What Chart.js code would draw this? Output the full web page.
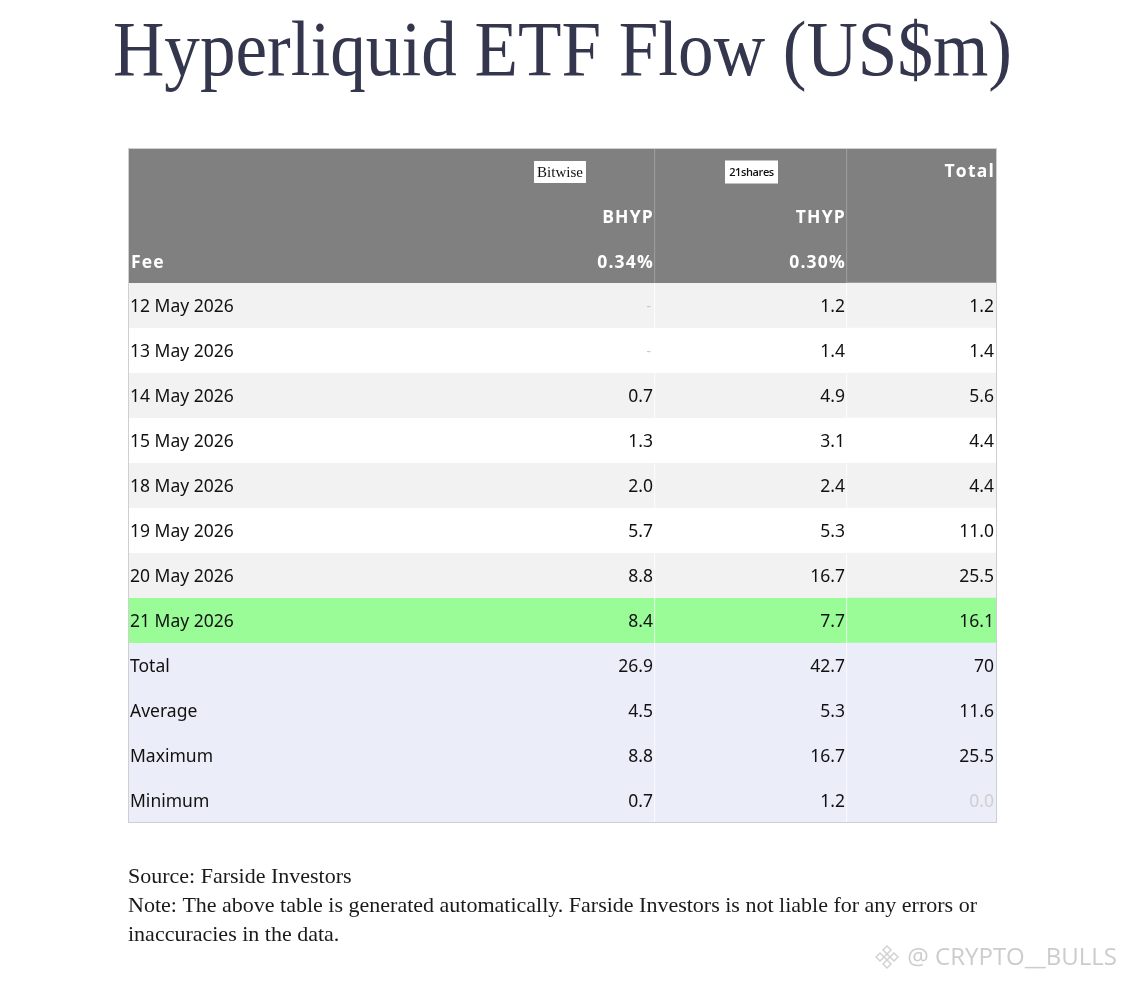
<!DOCTYPE html>
<html>
<head>
<meta charset="utf-8">
<script src="https://cdn.jsdelivr.net/npm/chart.js@4.4.1/dist/chart.umd.min.js"></script>
<style>
  html, body { margin: 0; padding: 0; background: #fff; }
  #wrap { width: 1125px; height: 981px; position: relative; }
</style>
</head>
<body>
<div id="wrap"><canvas id="flowTable"></canvas></div>
<script>
const TITLE = 'Hyperliquid ETF Flow (US$m)';
const ISSUERS = ['Bitwise', '21shares'];
const TICKERS = ['BHYP', 'THYP'];
const FEES = ['0.34%', '0.30%'];

const DATES = ['12 May 2026', '13 May 2026', '14 May 2026', '15 May 2026',
               '18 May 2026', '19 May 2026', '20 May 2026', '21 May 2026'];
const BHYP = [null, null, 0.7, 1.3, 2.0, 5.7, 8.8, 8.4];
const THYP = [1.2, 1.4, 4.9, 3.1, 2.4, 5.3, 16.7, 7.7];
const TOTAL = [1.2, 1.4, 5.6, 4.4, 4.4, 11.0, 25.5, 16.1];

const STAT_LABELS = ['Total', 'Average', 'Maximum', 'Minimum'];
const BHYP_STATS = [26.9, 4.5, 8.8, 0.7];
const THYP_STATS = [42.7, 5.3, 16.7, 1.2];
const TOTAL_STATS = ['70', '11.6', '25.5', '0.0'];

const NOTES = [
  'Source: Farside Investors',
  'Note: The above table is generated automatically. Farside Investors is not liable for any errors or',
  'inaccuracies in the data.'
];
const WATERMARK = '@ CRYPTO__BULLS';

// layout: relative column widths (label+BHYP, THYP, Total)
const COL_WIDTHS = [527, 192, 150];
const COL_EDGES = COL_WIDTHS.reduce((e, w) => e.concat(e[e.length - 1] + w), [0]);

const HEADER_ROWS = ['issuer', 'ticker', 'fee'];
const ROWS = [...HEADER_ROWS, ...DATES, ...STAT_LABELS.map(s => 'stat:' + s)];

function rowColor(i) {
  if (i < 3) return '#808080';
  const d = i - 3;
  if (d < DATES.length) {
    if (d === DATES.length - 1) return '#99fc97';
    return d % 2 === 0 ? '#f2f2f2' : '#ffffff';
  }
  return '#ebeef9';
}
function sepColor(i) {
  return i < 3 ? '#a9a9a9' : 'rgba(255,255,255,0.85)';
}

const BODY_FONT = '17.5px "Noto Sans"';
const HEAD_FONT = 'bold 17.5px "Open Sans"';

const tableText = {
  id: 'tableText',
  afterDatasetsDraw(chart) {
    const {ctx, chartArea: a, scales: {x, y}} = chart;
    const colRight = k => x.getPixelForValue(COL_EDGES[k + 1]);
    const leftX = a.left + 2;

    ctx.save();
    // outer border
    ctx.strokeStyle = '#cfcfcf';
    ctx.lineWidth = 1;
    ctx.strokeRect(a.left + 0.5, a.top + 0.5, a.right - a.left - 1, a.bottom - a.top - 1);

    ctx.textBaseline = 'middle';

    // header: issuer logos
    const ly = y.getPixelForValue(0) + 1.5;
    const logos = [
      {w: 52, h: 22, font: '15px "Liberation Serif"', color: '#111', ls: '0px'},
      {w: 53, h: 23, font: '600 11px "Open Sans"', color: '#111', ls: '-0.4px'}
    ];
    ISSUERS.forEach((name, k) => {
      const lg = logos[k];
      const r = colRight(k) - 69;
      ctx.fillStyle = '#ffffff';
      ctx.fillRect(r - lg.w, ly - lg.h / 2, lg.w, lg.h);
      ctx.fillStyle = lg.color;
      ctx.font = lg.font;
      ctx.textAlign = 'center';
      ctx.letterSpacing = lg.ls;
      ctx.fillText(name, r - lg.w / 2, ly + 1);
    });
    ctx.letterSpacing = '1.2px';
    ctx.fillStyle = '#ffffff';
    ctx.font = HEAD_FONT;
    ctx.textAlign = 'right';
    ctx.fillText('Total', colRight(2) - 2, ly);

    const ty = y.getPixelForValue(1) + 3;
    TICKERS.forEach((t, k) => ctx.fillText(t, colRight(k) - 1, ty));

    const fy = y.getPixelForValue(2) + 3;
    FEES.forEach((f, k) => ctx.fillText(f, colRight(k) - 1, fy));
    ctx.textAlign = 'left';
    ctx.fillText('Fee', leftX + 1, fy);
    ctx.letterSpacing = '0px';

    // body rows
    const drawRow = (i, label, vals) => {
      const cy = y.getPixelForValue(i) + 2;
      ctx.font = BODY_FONT;
      ctx.textAlign = 'left';
      ctx.fillStyle = '#111111';
      ctx.fillText(label, leftX, cy);
      ctx.textAlign = 'right';
      vals.forEach((v, k) => {
        const r = colRight(k) - (k === 2 ? 3 : 2);
        if (v === null) {
          ctx.fillStyle = '#c8c8c8';
          ctx.font = '14px "Noto Sans"';
          ctx.fillText('-', r - 2, cy);
          ctx.font = BODY_FONT;
          return;
        }
        const s = typeof v === 'string' ? v : v.toFixed(1);
        ctx.fillStyle = parseFloat(s) === 0 ? '#cfcfcf' : '#111111';
        ctx.fillText(s, r, cy);
      });
    };
    DATES.forEach((d, j) => drawRow(3 + j, d, [BHYP[j], THYP[j], TOTAL[j]]));
    STAT_LABELS.forEach((s, j) =>
      drawRow(3 + DATES.length + j, s, [BHYP_STATS[j], THYP_STATS[j], TOTAL_STATS[j]]));
    ctx.restore();
  },
  afterDraw(chart) {
    const {ctx, width, height} = chart;
    ctx.save();
    // title
    ctx.fillStyle = '#33364d';
    ctx.font = '79px "Liberation Serif"';
    ctx.textAlign = 'center';
    ctx.textBaseline = 'alphabetic';
    ctx.fillText(TITLE, 562.5, 75, 899);

    // watermark
    ctx.fillStyle = '#cccccc';
    ctx.font = '24px "Open Sans"';
    ctx.textAlign = 'right';
    ctx.fillText(WATERMARK, width - 8, height - 16);
    const cx = 887, cy = 957;
    ctx.strokeStyle = '#d2d2d2';
    ctx.lineWidth = 1.5;
    [[0, -7, 4], [-7, 0, 4], [7, 0, 4], [0, 7, 4], [0, 0, 3]].forEach(([dx, dy, s]) => {
      ctx.beginPath();
      ctx.moveTo(cx + dx, cy + dy - s);
      ctx.lineTo(cx + dx + s, cy + dy);
      ctx.lineTo(cx + dx, cy + dy + s);
      ctx.lineTo(cx + dx - s, cy + dy);
      ctx.closePath();
      ctx.stroke();
    });
    ctx.restore();
  }
};

const columnDatasets = COL_WIDTHS.map((w, c) => ({
  label: ['Date / BHYP', 'THYP', 'Total'][c],
  data: ROWS.map(() => [COL_EDGES[c], COL_EDGES[c + 1]]),
  backgroundColor: ROWS.map((r, i) => rowColor(i)),
  borderColor: ROWS.map((r, i) => sepColor(i)),
  borderWidth: {top: 0, bottom: 0, left: 0, right: c < 2 ? 1 : 0},
  borderSkipped: false,
  grouped: false,
  barPercentage: 1,
  categoryPercentage: 1
}));

let ctx = document.getElementById('flowTable').getContext('2d');
let flowTable = new Chart(ctx, {
  type: 'bar',
  data: { labels: ROWS, datasets: columnDatasets },
  options: {
    indexAxis: 'y',
    responsive: true,
    maintainAspectRatio: false,
    animation: false,
    events: [],
    layout: { padding: { top: 148, left: 128, right: 128, bottom: 0 } },
    scales: {
      x: { type: 'linear', min: 0, max: COL_EDGES[COL_EDGES.length - 1], display: false },
      y: { type: 'category', display: false, offset: true }
    },
    plugins: {
      legend: { display: false },
      tooltip: { enabled: false },
      title: { display: false },
      subtitle: {
        display: true,
        position: 'bottom',
        align: 'start',
        text: NOTES,
        color: '#1a1a1a',
        font: { family: '"Liberation Serif", serif', size: 22, weight: 'normal', lineHeight: 29 / 22 },
        padding: { top: 40, bottom: 31 }
      }
    }
  },
  plugins: [tableText]
});
</script>
</body>
</html>
